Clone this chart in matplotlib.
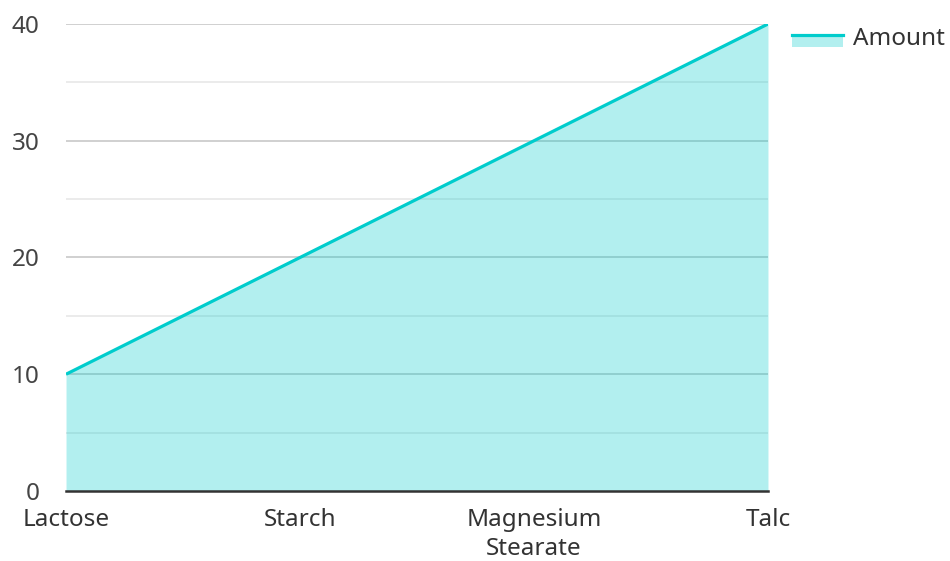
import matplotlib.pyplot as plt
from matplotlib.patches import Rectangle
from matplotlib.lines import Line2D
from matplotlib.legend_handler import HandlerBase

plt.rcParams['font.family'] = ['Noto Sans', 'DejaVu Sans']

# data
categories = ['Lactose', 'Starch', 'Magnesium\nStearate', 'Talc']
amounts = [10, 20, 30, 40]
series_name = 'Amount'

line_color = '#00cccc'
x = list(range(len(categories)))


class AreaHandler(HandlerBase):
    # line on top, light fill underneath
    def create_artists(self, legend, orig, xd, yd, w, h, fs, trans):
        top = yd + h * 0.6
        bot = yd - h * 0.1
        r = Rectangle((xd, bot), w, top - bot,
                      facecolor=line_color, alpha=0.3, lw=0, transform=trans)
        l = Line2D([xd, xd + w], [top, top], color=line_color, lw=2.3,
                   transform=trans)
        return [r, l]


fig = plt.figure(figsize=(9.5, 5.61), dpi=100)
ax = fig.add_axes([0.0695, 0.1248, 0.7389, 0.8324])

# grid: major every 10, minor every 5
for v in range(5, 41, 5):
    c = '#c4c4c4' if v % 10 == 0 else '#e6e6e6'
    ax.axhline(v, color=c, lw=1.1, zorder=1)

ax.fill_between(x, 0, amounts, color=line_color, alpha=0.3, lw=0, zorder=2)
ax.plot(x, amounts, color=line_color, lw=2.3, zorder=3, solid_capstyle='butt')

ax.set_xlim(0, len(categories) - 1)
ax.set_ylim(0, 40)
ax.set_yticks([0, 10, 20, 30, 40])
ax.set_xticks(x)
ax.set_xticklabels(categories, fontsize=17.5, color='#333333', linespacing=1.3)
ax.tick_params(axis='y', length=0, pad=19, labelsize=17.5, labelcolor='#444444')
ax.tick_params(axis='x', length=0, pad=12)

for s in ['top', 'right', 'left']:
    ax.spines[s].set_visible(False)
ax.spines['bottom'].set_color('#333333')
ax.spines['bottom'].set_linewidth(1.8)
ax.spines['bottom'].set_zorder(4)

fig.legend([object()], [series_name], handler_map={object: AreaHandler()},
           loc='upper left', bbox_to_anchor=(0.811, 0.99), frameon=False,
           fontsize=17.5, handlelength=2.1, handletextpad=0.4,
           labelcolor='#333333')

fig.savefig('out.png', dpi=100)
